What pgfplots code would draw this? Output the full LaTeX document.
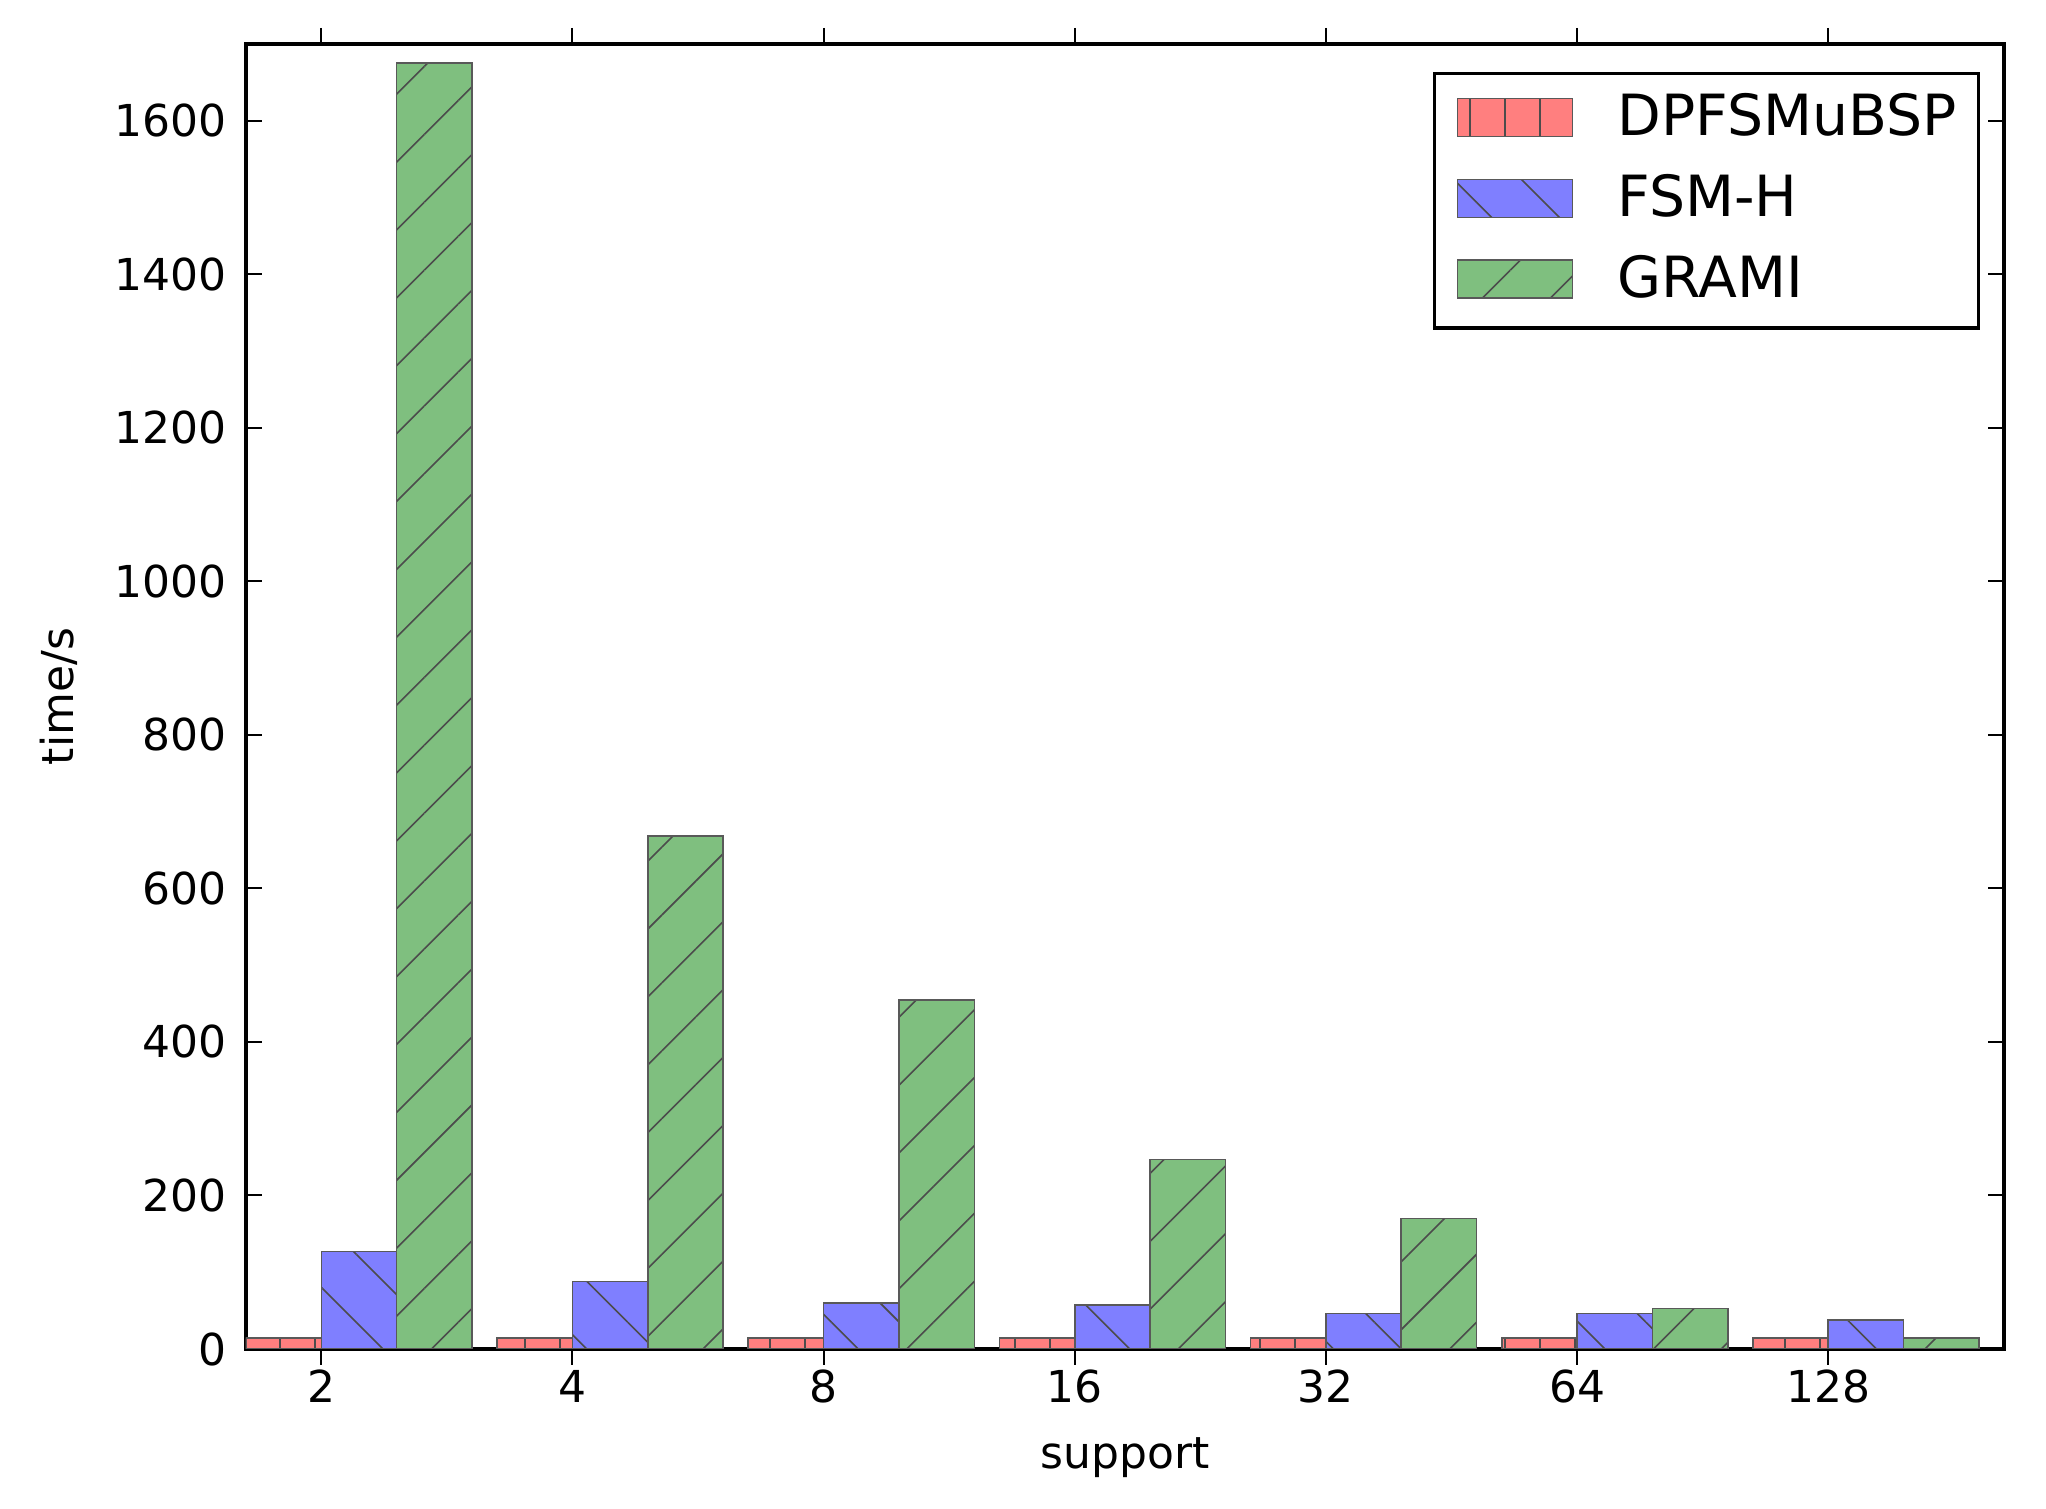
\documentclass[border=0pt]{standalone}
\usepackage{pgfplots}
\pgfplotsset{compat=1.18}
\usepackage{fontspec}
\setmainfont{DejaVu Sans}
\usetikzlibrary{patterns.meta}
\definecolor{cred}{HTML}{FF7F7F}
\definecolor{cblue}{HTML}{7F7FFF}
\definecolor{cgreen}{HTML}{7FBF7F}
\begin{document}
\begin{tikzpicture}
\begin{axis}[
  name=ax,
  scale only axis,
  width=439.5pt, height=326.25pt,
  xmin=0, xmax=7, ymin=0, ymax=1700,
  ytick={0,200,400,600,800,1000,1200,1400,1600},
  xtick={0.3,1.3,2.3,3.3,4.3,5.3,6.3},
  xticklabels={2,4,8,16,32,64,128},
  /pgf/number format/assume math mode=true,
  /pgf/number format/1000 sep={},
  tick align=inside,
  major tick length=4pt,
  major tick style={line width=0.5pt, black},
  axis line style={line width=0.8pt, black},
  tick label style={font=\fontsize{11}{13}\selectfont},
  label style={font=\fontsize{11}{13}\selectfont},
  xticklabel style={yshift=2.3pt},
  yticklabel style={xshift=-1.35pt},
  xlabel={support},
  ylabel={time/s},
  xlabel style={at={(axis description cs:0.5,-0.0835)}, anchor=center},
  ylabel style={at={(axis description cs:-0.1064,0.5)}, anchor=center},
  ybar,
  bar width=0.3,
  legend image code/.code={\pgfpathmoveto{\pgfqpoint{0pt}{-7.25pt}}\pgfusepath{}\draw[#1] (0pt,-4.75pt) rectangle (28.8pt,4.75pt);},
  legend style={at={(1,1)}, anchor=north east, xshift=-6pt, yshift=-7pt,
    draw=black, line width=0.8pt, font=\fontsize{14.2}{17}\selectfont,
    inner xsep=5.5pt, inner ysep=5pt, row sep=6.9pt, column sep=11pt,
    nodes={inner sep=0pt}, cells={anchor=west}},
  legend cell align=left,
]
\addplot[bar shift=0pt, fill=cred, draw=black!65, line width=0.4pt,
  postaction={pattern={Lines[angle=90,distance=8.75pt,line width=0.4pt]}, pattern color=black!70}]
  coordinates {(0.15,14) (1.15,14) (2.15,14) (3.15,14) (4.15,14) (5.15,14) (6.15,14)};
\addlegendentry{DPFSMuBSP}
\addplot[bar shift=0pt, fill=cblue, draw=black!65, line width=0.4pt,
  postaction={pattern={Lines[angle=-45,distance=12pt,line width=0.4pt]}, pattern color=black!70}]
  coordinates {(0.45,127) (1.45,88) (2.45,60) (3.45,57) (4.45,46) (5.45,46) (6.45,38)};
\addlegendentry{FSM-H}
\addplot[bar shift=0pt, fill=cgreen, draw=black!65, line width=0.4pt,
  postaction={pattern={Lines[angle=45,distance=12pt,line width=0.4pt]}, pattern color=black!70}]
  coordinates {(0.75,1675) (1.75,668) (2.75,455) (3.75,247) (4.75,170) (5.75,53) (6.75,14)};
\addlegendentry{GRAMI}
\end{axis}
\pgfresetboundingbox
\path ([shift={(-61.5pt,-40pt)}]ax.south west) rectangle ([shift={(10.5pt,11pt)}]ax.north east);
\end{tikzpicture}
\end{document}
